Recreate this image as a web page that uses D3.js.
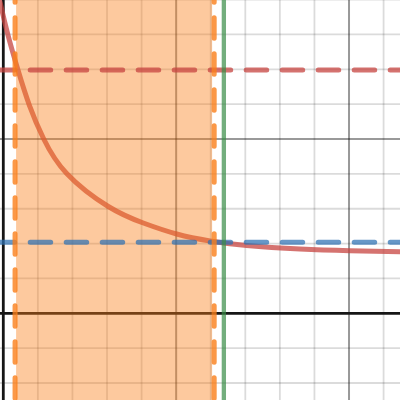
<!DOCTYPE html>
<html><head><meta charset="utf-8">
<script src="https://cdn.jsdelivr.net/npm/d3@7"></script>
<style>html,body{margin:0;padding:0;background:#fff;overflow:hidden}</style>
</head><body><svg id="c" width="400" height="400"></svg>
<script>
// ---- data (graph units) ----
const xDomain = [-0.0955, 11.475];
const yDomain = [-2.487, 8.988];
const curveX = [-0.0955, 0.136, 0.425, 0.752, 1.163, 1.834, 3.037, 4.050, 5.016, 5.979, 7.041, 8.582, 10.029, 11.475];
const curveY = [8.930, 7.983, 6.979, 5.975, 5.014, 4.010, 3.064, 2.590, 2.275, 2.074, 1.945, 1.845, 1.796, 1.767];
const shadeRange = [0.37, 6.04];
const boundaryX = [0.34, 6.10];
const solidX = [6.38];
const redLevel = [6.98];
const blueLevel = [2.04];
const gridX = [1, 2, 3, 4, 5, 6, 7, 8, 9, 10, 11];
const gridY = [-2, -1, 1, 2, 3, 4, 5, 6, 7, 8, 9];
const majorStep = 5;

const W = 400, H = 400;
const svg = d3.select('#c');
const x = d3.scaleLinear().domain(xDomain).range([0, W]);
const y = d3.scaleLinear().domain(yDomain).range([H, 0]);

// grid
const g = svg.append('g');
g.selectAll('line.vx').data(gridX).join('line')
  .attr('x1', d => x(d)).attr('x2', d => x(d)).attr('y1', 0).attr('y2', H)
  .attr('stroke', d => d % majorStep === 0 ? 'rgba(0,0,0,0.40)' : 'rgba(0,0,0,0.14)')
  .attr('stroke-width', d => d % majorStep === 0 ? 2 : 1.8);
g.selectAll('line.hy').data(gridY).join('line')
  .attr('y1', d => y(d)).attr('y2', d => y(d)).attr('x1', 0).attr('x2', W)
  .attr('stroke', d => d % majorStep === 0 ? 'rgba(0,0,0,0.40)' : 'rgba(0,0,0,0.14)')
  .attr('stroke-width', d => d % majorStep === 0 ? 2 : 1.8);
// axes
g.append('line').attr('x1', x(0)).attr('x2', x(0)).attr('y1', 0).attr('y2', H)
  .attr('stroke', '#161616').attr('stroke-width', 2.8);
g.append('line').attr('y1', y(0)).attr('y2', y(0)).attr('x1', 0).attr('x2', W)
  .attr('stroke', '#161616').attr('stroke-width', 2.8);

// curve
const pts = curveX.map((d, i) => [d, curveY[i]]);
svg.append('path').datum(pts)
  .attr('d', d3.line().x(d => x(d[0])).y(d => y(d[1])).curve(d3.curveNatural))
  .attr('fill', 'none').attr('stroke', 'rgba(199,68,64,0.75)').attr('stroke-width', 5)
  .attr('stroke-linecap', 'round');

// shaded region
svg.append('rect')
  .attr('x', x(shadeRange[0])).attr('width', x(shadeRange[1]) - x(shadeRange[0]))
  .attr('y', 0).attr('height', H)
  .attr('fill', 'rgba(250,126,25,0.42)');

// horizontal dashed lines
const hLine = (vals, color) => svg.selectAll(null).data(vals).join('line')
  .attr('x1', 0).attr('x2', W).attr('y1', d => y(d)).attr('y2', d => y(d))
  .attr('stroke', color).attr('stroke-width', 5)
  .attr('stroke-linecap', 'round').attr('stroke-dasharray', '20.5 15.5')
  .attr('stroke-dashoffset', 5.8);
hLine(redLevel, 'rgba(199,68,64,0.75)');
hLine(blueLevel, 'rgba(45,112,179,0.72)');

// vertical dashed boundaries
svg.selectAll(null).data(boundaryX).join('line')
  .attr('x1', d => x(d)).attr('x2', d => x(d)).attr('y1', 0).attr('y2', H)
  .attr('stroke', 'rgba(250,126,25,0.8)').attr('stroke-width', 5)
  .attr('stroke-linecap', 'round').attr('stroke-dasharray', '20.5 15.5')
  .attr('stroke-dashoffset', 18.2);

// solid green line
svg.selectAll(null).data(solidX).join('line')
  .attr('x1', d => x(d)).attr('x2', d => x(d)).attr('y1', 0).attr('y2', H)
  .attr('stroke', 'rgba(56,140,70,0.7)').attr('stroke-width', 4.3);
</script></body></html>
